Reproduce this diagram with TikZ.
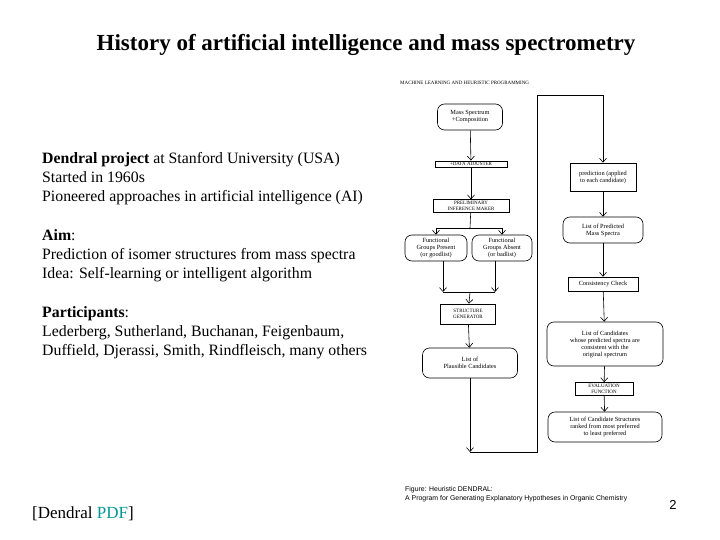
\documentclass[tikz,border=0pt]{standalone}
\usepackage{fontspec}
\setmainfont{Liberation Serif}
\setsansfont{Liberation Sans}
\usetikzlibrary{arrows.meta}
\definecolor{linkteal}{RGB}{0,150,150}
\begin{document}
\begin{tikzpicture}[x=1pt,y=-1pt,
  txt/.style={anchor=west,inner sep=0pt,font=\fontsize{15.8}{19}\selectfont,align=left},
  fbox/.style={draw,line width=0.6pt,inner sep=1.5pt,align=center,font=\fontsize{6.3}{7}\selectfont},
  cloud/.style={fbox,rounded corners=7pt,minimum height=26pt},
  sc/.style={fbox,font=\fontsize{5}{6.3}\selectfont},
  flow/.style={line width=0.6pt,-{Straight Barb[length=4pt,width=7pt]}},
  wire/.style={line width=0.6pt}]
\useasboundingbox (0,0) rectangle (720,540);
\node[font=\bfseries\fontsize{23}{26}\selectfont] (title) at (366,45) {History of artificial intelligence and mass spectrometry};
\node[txt] (t1) at (42,179) {\textbf{Dendral project} at Stanford University (USA)\\Started in 1960s\\Pioneered approaches in artificial intelligence (AI)};
\node[txt] (t2) at (42,256) {\textbf{Aim}:\\Prediction of isomer structures from mass spectra\\Idea: Self-learning or intelligent algorithm};
\node[txt] (t3) at (42,333) {\textbf{Participants}:\\Lederberg, Sutherland, Buchanan, Feigenbaum,\\Duffield, Djerassi, Smith, Rindfleisch, many others};
\node[txt,font=\fontsize{17}{19}\selectfont] (pdf) at (32,514) {[Dendral \textcolor{linkteal}{PDF}]};
\node[font=\sffamily\fontsize{13}{15}\selectfont] (pg) at (673,505) {2};
\node[anchor=west,inner sep=0pt,align=left,font=\sffamily\fontsize{6.9}{9}\selectfont] (cap) at (405,494) {Figure: Heuristic DENDRAL:\\A Program for Generating Explanatory Hypotheses in Organic Chemistry};
\node[anchor=west,inner sep=0pt,font=\fontsize{5}{5.5}\selectfont] (hdr) at (400,83) {MACHINE LEARNING AND HEURISTIC PROGRAMMING};
\node[cloud,minimum width=65pt] (ms) at (470,117) {Mass Spectrum\\+Composition};
\node[sc,minimum width=72pt] (da) at (471,164) {+DATA ADJUSTER};
\node[sc,minimum width=76pt] (pim) at (471,206) {PRELIMINARY\\INFERENCE MAKER};
\node[cloud,minimum width=62pt] (fgp) at (436,248) {Functional\\Groups Present\\(\textsc{or goodlist})};
\node[cloud,minimum width=60pt] (fga) at (502,248) {Functional\\Groups Absent\\(\textsc{or badlist})};
\node[sc,minimum width=55pt,minimum height=20pt] (sg) at (468,314) {STRUCTURE\\GENERATOR};
\node[cloud,minimum width=95pt,minimum height=30pt] (lpc) at (470,363) {List of\\Plausible Candidates};
\node[fbox,minimum width=66pt,minimum height=28pt] (pred) at (603,177) {\textsc{prediction} (applied\\to each candidate)};
\node[cloud,minimum width=80pt] (lpm) at (603,230) {List of Predicted\\Mass Spectra};
\node[fbox,minimum width=70pt,minimum height=14pt] (cc) at (603,284) {Consistency Check};
\node[cloud,minimum width=116pt,minimum height=44pt] (lc) at (605,344) {List of Candidates\\whose predicted spectra are\\consistent with the\\original spectrum};
\node[sc,minimum width=58pt,minimum height=13pt] (ef) at (604,389) {EVALUATION\\FUNCTION};
\node[cloud,minimum width=114pt,minimum height=30pt] (lcs) at (605,427) {List of Candidate Structures\\ranked from most preferred\\to least preferred};
\coordinate (s1) at (470,228);
\coordinate (s1a) at (436,228);
\coordinate (s1b) at (502,228);
\coordinate (j1) at (443,292);
\coordinate (j2) at (495,292);
\coordinate (j0) at (470,292);
\coordinate (bot) at (470,452);
\coordinate (r1) at (537,452);
\coordinate (r2) at (537,95);
\coordinate (r3) at (603,95);
\draw[flow] (ms) -- (da);
\draw[flow] (da) -- (pim);
\draw[wire] (pim) -- (s1);
\draw[wire] (s1a) -- (s1b);
\draw[flow] (s1a) -- (fgp);
\draw[flow] (s1b) -- (fga);
\draw[flow] (fgp.south -| j1) -- (j1);
\draw[flow] (fga.south -| j2) -- (j2);
\draw[wire] (j1) -- (j2);
\draw[flow] (j0) -- (sg);
\draw[flow] (sg) -- (lpc);
\draw[flow] (lpc) -- (bot);
\draw[wire] (bot) -- (r1) -- (r2) -- (r3);
\draw[flow] (r3) -- (pred);
\draw[flow] (pred) -- (lpm);
\draw[flow] (lpm) -- (cc);
\draw[flow] (cc) -- (lc);
\draw[flow] (lc) -- (ef);
\draw[flow] (ef) -- (lcs);
\end{tikzpicture}
\end{document}
